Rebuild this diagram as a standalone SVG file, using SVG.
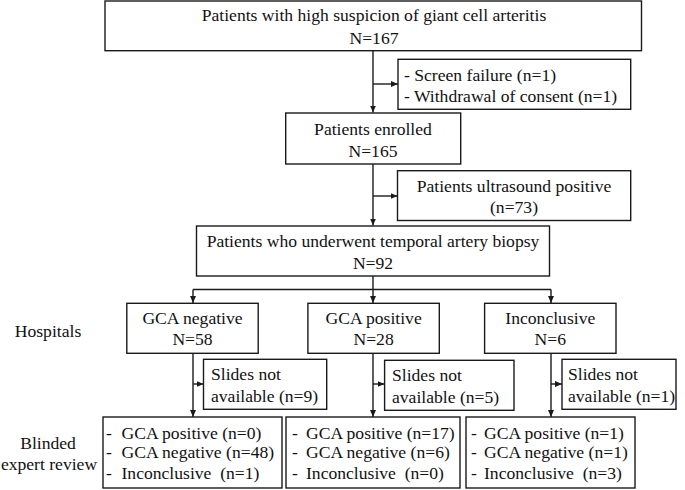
<svg xmlns="http://www.w3.org/2000/svg" width="685" height="490" viewBox="0 0 685 490" font-family="'Liberation Serif', 'Times New Roman', Times, 'Tinos', 'Nimbus Roman', 'DejaVu Serif', serif">
<defs>
<marker id="arr" markerUnits="userSpaceOnUse" markerWidth="8" markerHeight="6" refX="7" refY="3" orient="auto">
<path d="M0,0 L7,3 L0,6 z" fill="#1a1a1a"/>
</marker>
</defs>
<style>
.box{fill:#fff;stroke:#1a1a1a;stroke-width:1.4}
.t{font-family:'Liberation Serif','Times New Roman',Times,Tinos,'Nimbus Roman','DejaVu Serif',serif;font-size:17.6px;fill:#111}
.c{text-anchor:middle}
.ln{fill:none;stroke:#1a1a1a;stroke-width:1.4}
</style>
<rect width="685" height="490" fill="#fff"/>

<g id="connectors">
<line class="ln" x1="373" y1="51" x2="373" y2="112.5" marker-end="url(#arr)"/>
<line class="ln" x1="373" y1="84" x2="398" y2="84" marker-end="url(#arr)"/>
<line class="ln" x1="373" y1="164" x2="373" y2="225.5" marker-end="url(#arr)"/>
<line class="ln" x1="373" y1="196" x2="397.5" y2="196" marker-end="url(#arr)"/>
<line class="ln" x1="373" y1="276" x2="373" y2="289.5"/>
<line class="ln" x1="193" y1="289.5" x2="551" y2="289.5"/>
<line class="ln" x1="193" y1="289.5" x2="193" y2="303" marker-end="url(#arr)"/>
<line class="ln" x1="373" y1="289.5" x2="373" y2="303" marker-end="url(#arr)"/>
<line class="ln" x1="551" y1="289.5" x2="551" y2="303" marker-end="url(#arr)"/>
<line class="ln" x1="193" y1="353" x2="193" y2="417" marker-end="url(#arr)"/>
<line class="ln" x1="193" y1="384" x2="203.5" y2="384" marker-end="url(#arr)"/>
<line class="ln" x1="373" y1="353" x2="373" y2="417" marker-end="url(#arr)"/>
<line class="ln" x1="373" y1="384" x2="384.5" y2="384" marker-end="url(#arr)"/>
<line class="ln" x1="551" y1="353" x2="551" y2="417" marker-end="url(#arr)"/>
<line class="ln" x1="551" y1="384" x2="562" y2="384" marker-end="url(#arr)"/>
</g>

<g id="suspicion">
<rect class="box" x="105" y="1" width="536.5" height="49.7"/>
<text class="t c" x="374" y="20.7">Patients with high suspicion of giant cell arteritis</text>
<text class="t c" x="374" y="44.3">N=167</text>
</g>

<g id="excluded">
<rect class="box" x="398" y="59.3" width="232.7" height="50"/>
<text class="t" x="404" y="80.5">- Screen failure (n=1)</text>
<text class="t" x="404" y="101.5">- Withdrawal of consent (n=1)</text>
</g>

<g id="enrolled">
<rect class="box" x="285.7" y="113" width="175" height="51"/>
<text class="t c" x="373" y="135">Patients enrolled</text>
<text class="t c" x="373" y="156.7">N=165</text>
</g>

<g id="ultrasound">
<rect class="box" x="397.5" y="170.7" width="233.2" height="49.8"/>
<text class="t c" x="514" y="191.7">Patients ultrasound positive</text>
<text class="t c" x="514" y="213.3">(n=73)</text>
</g>

<g id="biopsy">
<rect class="box" x="196.5" y="226" width="353" height="50"/>
<text class="t c" x="373" y="247">Patients who underwent temporal artery biopsy</text>
<text class="t c" x="373" y="268.5">N=92</text>
</g>

<g id="label-hospitals">
<text class="t c" x="48" y="337">Hospitals</text>
</g>

<g id="gca-negative">
<rect class="box" x="126.8" y="303.3" width="131.4" height="50"/>
<text class="t c" x="192.5" y="323.5">GCA negative</text>
<text class="t c" x="192.5" y="345">N=58</text>
</g>

<g id="gca-positive">
<rect class="box" x="307.9" y="303.3" width="131.4" height="50"/>
<text class="t c" x="373.6" y="323.5">GCA positive</text>
<text class="t c" x="373.6" y="345">N=28</text>
</g>

<g id="inconclusive">
<rect class="box" x="484.6" y="303.3" width="131.4" height="50"/>
<text class="t c" x="550.3" y="323.5">Inconclusive</text>
<text class="t c" x="550.3" y="345">N=6</text>
</g>

<g id="slides-1">
<rect class="box" x="203.5" y="359.3" width="123.2" height="50"/>
<text class="t" x="211" y="379.5">Slides not</text>
<text class="t" x="211" y="401.7">available (n=9)</text>
</g>

<g id="slides-2">
<rect class="box" x="384.6" y="360.3" width="129.4" height="50"/>
<text class="t" x="392" y="380.5">Slides not</text>
<text class="t" x="392" y="402.7">available (n=5)</text>
</g>

<g id="slides-3">
<rect class="box" x="562" y="359.3" width="114" height="50"/>
<text class="t" x="568" y="379.5">Slides not</text>
<text class="t" x="568" y="401.7">available (n=1)</text>
</g>

<g id="label-review">
<text class="t c" x="48" y="449">Blinded</text>
<text class="t c" x="49" y="470">expert review</text>
</g>

<g id="review-negative">
<rect class="box" x="103" y="417" width="179" height="71"/>
<text class="t" x="106" y="438.5">-</text>
<text class="t" x="121.5" y="438.5">GCA positive (n=0)</text>
<text class="t" x="106" y="458">-</text>
<text class="t" x="121.5" y="458">GCA negative (n=48)</text>
<text class="t" x="106" y="478.5">-</text>
<text class="t" x="121.5" y="478.5" xml:space="preserve">Inconclusive  (n=1)</text>
</g>

<g id="review-positive">
<rect class="box" x="286" y="417" width="174" height="71"/>
<text class="t" x="292" y="438.5">-</text>
<text class="t" x="306" y="438.5">GCA positive (n=17)</text>
<text class="t" x="292" y="458">-</text>
<text class="t" x="306" y="458">GCA negative (n=6)</text>
<text class="t" x="292" y="478.5">-</text>
<text class="t" x="306" y="478.5" xml:space="preserve">Inconclusive  (n=0)</text>
</g>

<g id="review-inconclusive">
<rect class="box" x="466" y="417" width="169" height="71"/>
<text class="t" x="471" y="438.5">-</text>
<text class="t" x="484" y="438.5">GCA positive (n=1)</text>
<text class="t" x="471" y="458">-</text>
<text class="t" x="484" y="458">GCA negative (n=1)</text>
<text class="t" x="471" y="478.5">-</text>
<text class="t" x="484" y="478.5" xml:space="preserve">Inconclusive  (n=3)</text>
</g>
</svg>
